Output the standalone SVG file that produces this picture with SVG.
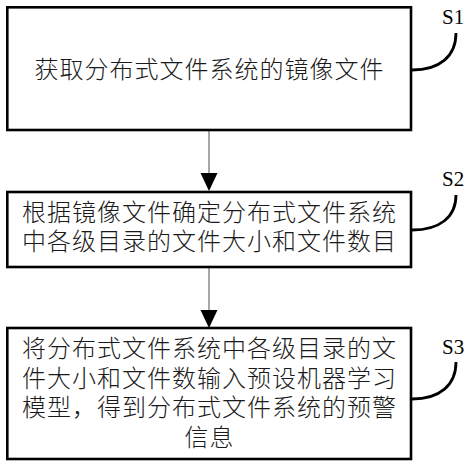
<svg xmlns="http://www.w3.org/2000/svg" width="474" height="467" viewBox="0 0 474 467">
<style>
.box{fill:#fff;stroke:#000;stroke-width:2.6}
.t{font-family:"Noto Sans CJK SC","Noto Sans",sans-serif;font-size:24px;font-weight:300;letter-spacing:1px;fill:#1a1a1a;text-anchor:middle}
.lbl{font-family:"Liberation Serif",serif;font-size:21px;fill:#000}
.lead{fill:none;stroke:#000;stroke-width:2.8}
.conn{stroke:#777;stroke-width:1.3;fill:none}
.head{fill:#000}
</style>
<rect width="474" height="467" fill="#fff"/>
<g id="connectors">
<line class="conn" x1="209" y1="131" x2="209" y2="176"/>
<polygon class="head" points="200.5,173 217.5,173 209,191"/>
<line class="conn" x1="209" y1="268" x2="209" y2="312"/>
<polygon class="head" points="200.5,310 217.5,310 209,328"/>
</g>
<g id="s1">
<rect class="box" x="7.3" y="7.3" width="403.7" height="122.7"/>
<text class="t" x="209.5" y="78">获取分布式文件系统的镜像文件</text>
<path class="lead" d="M412,70 C440,70 456,56 456,33"/>
<text class="lbl" x="442" y="24">S1</text>
</g>
<g id="s2">
<rect class="box" x="7.3" y="192" width="403.7" height="75"/>
<text class="t" x="209.5" y="221">根据镜像文件确定分布式文件系统<tspan x="209.5" dy="29">中各级目录的文件大小和文件数目</tspan></text>
<path class="lead" d="M412,230 C440,230 456,217 456,195"/>
<text class="lbl" x="442" y="186">S2</text>
</g>
<g id="s3">
<rect class="box" x="7.3" y="328" width="403.7" height="131"/>
<text class="t" x="209.5" y="357">将分布式文件系统中各级目录的文<tspan x="209.5" dy="29.7">件大小和文件数输入预设机器学习</tspan><tspan x="209.5" dy="29.7">模型，得到分布式文件系统的预警</tspan><tspan x="209.5" dy="29.7">信息</tspan></text>
<path class="lead" d="M412,399 C440,399 456,385 456,362"/>
<text class="lbl" x="442" y="354">S3</text>
</g>
</svg>
